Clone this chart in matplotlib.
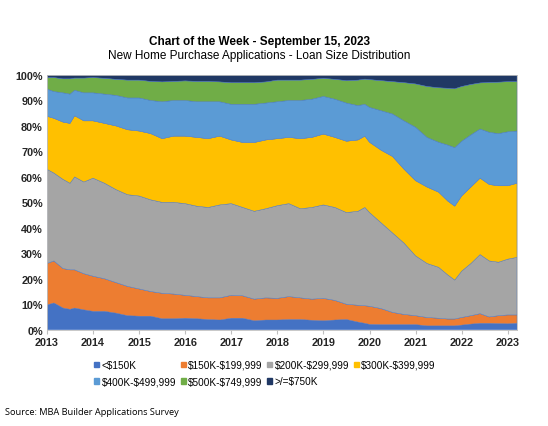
import matplotlib
matplotlib.use("Agg")
import matplotlib.pyplot as plt
from matplotlib.patches import Patch
from matplotlib.ticker import FuncFormatter

plt.rcParams['font.family'] = ['Liberation Sans', 'DejaVu Sans']
plt.rcParams['text.parse_math'] = False

# time in decimal years, shares in percent of applications
years = [2013.00, 2013.15, 2013.35, 2013.50, 2013.60, 2013.80, 2014.00, 2014.25,
         2014.50, 2014.75, 2015.00, 2015.25, 2015.50, 2015.75, 2016.00, 2016.25,
         2016.50, 2016.75, 2017.00, 2017.25, 2017.50, 2017.75, 2018.00, 2018.25,
         2018.50, 2018.75, 2019.00, 2019.25, 2019.50, 2019.75, 2019.90, 2020.00,
         2020.25, 2020.50, 2020.75, 2021.00, 2021.25, 2021.50, 2021.70, 2021.85,
         2022.00, 2022.20, 2022.40, 2022.60, 2022.80, 2023.00, 2023.20]

lt150 = [9.7, 10.5, 8.5, 8.0, 8.5, 7.8, 7.2, 7.2, 6.5, 5.5, 5.3, 5.3, 4.3, 4.3, 4.5, 4.3,
         4.0, 3.8, 4.5, 4.5, 3.5, 3.8, 3.8, 4.0, 4.0, 3.7, 3.5, 3.8, 4.0, 3.0, 2.5, 2.1,
         2.0, 2.0, 2.0, 2.0, 1.5, 1.5, 1.5, 1.5, 1.8, 2.2, 2.5, 2.5, 2.4, 2.3, 2.5]
k150_199 = [16.3, 16.5, 15.5, 15.5, 15.0, 14.2, 13.8, 12.8, 12.0, 11.5, 10.7, 9.7, 10.0, 9.7, 9.0, 8.7,
            8.5, 8.7, 9.0, 8.8, 8.5, 8.7, 8.5, 9.0, 8.5, 8.3, 8.8, 7.7, 6.0, 6.6, 6.9, 7.1,
            6.3, 4.8, 4.0, 3.5, 3.3, 3.0, 2.7, 2.7, 3.0, 3.3, 3.8, 2.5, 3.1, 3.5, 3.3]
k200_299 = [37.0, 34.5, 35.0, 34.0, 36.5, 36.0, 38.5, 37.5, 36.5, 36.0, 36.5, 36.0, 35.7, 36.0, 36.0, 35.5,
            35.5, 36.5, 36.0, 34.7, 34.5, 35.0, 36.4, 36.5, 35.0, 36.0, 36.7, 36.5, 36.0, 36.9, 38.6, 36.8,
            33.7, 31.2, 28.0, 23.5, 21.2, 20.0, 17.3, 15.3, 18.2, 20.5, 23.2, 22.0, 21.0, 21.9, 22.6]
k300_399 = [20.8, 21.5, 22.5, 23.5, 24.0, 24.0, 22.5, 23.5, 25.0, 25.5, 25.5, 26.0, 25.0, 26.0, 26.5, 27.0,
            27.0, 27.0, 25.0, 25.5, 27.0, 27.0, 26.3, 26.0, 27.5, 27.5, 27.8, 27.5, 28.0, 28.0, 28.0, 27.6,
            28.5, 30.0, 29.0, 29.5, 30.0, 29.5, 29.0, 29.0, 29.5, 30.0, 30.0, 30.0, 30.0, 28.8, 29.1]
k400_499 = [10.7, 10.5, 11.5, 11.5, 10.0, 11.0, 11.0, 11.5, 12.0, 12.5, 13.0, 13.0, 14.5, 14.0, 14.0, 14.0,
            14.5, 13.5, 14.0, 15.0, 15.0, 14.5, 14.5, 14.5, 15.0, 15.0, 14.8, 15.0, 15.0, 13.5, 12.5, 13.7,
            15.5, 16.7, 19.0, 21.0, 19.5, 19.6, 22.0, 23.0, 21.5, 20.5, 19.3, 20.5, 20.5, 21.2, 20.5]
k500_749 = [4.5, 5.5, 5.5, 6.0, 4.8, 5.8, 6.0, 6.2, 6.3, 7.0, 7.0, 7.5, 7.8, 7.5, 7.7, 8.0,
            8.0, 7.8, 8.5, 8.5, 8.5, 8.3, 8.5, 8.0, 8.0, 7.8, 7.1, 7.8, 8.8, 10.0, 9.9, 10.9,
            11.8, 12.7, 15.0, 17.0, 20.0, 21.4, 22.3, 23.1, 21.5, 19.8, 18.1, 19.6, 20.2, 19.7, 19.4]
k750up = [1.0, 1.0, 1.5, 1.5, 1.2, 1.2, 1.0, 1.3, 1.7, 2.0, 2.0, 2.5, 2.7, 2.5, 2.3, 2.5,
          2.5, 2.7, 3.0, 3.0, 3.0, 2.7, 2.0, 2.0, 2.0, 1.7, 1.3, 1.7, 2.2, 2.0, 1.6, 1.8,
          2.2, 2.6, 3.0, 3.5, 4.5, 5.0, 5.2, 5.4, 4.5, 3.7, 3.1, 2.9, 2.8, 2.6, 2.6]

labels = ["<$150K", "$150K-$199,999", "$200K-$299,999", "$300K-$399,999",
          "$400K-$499,999", "$500K-$749,999", ">/=$750K"]
colors = ["#4472C4", "#ED7D31", "#A5A5A5", "#FFC000", "#5B9BD5", "#70AD47", "#203864"]
series = [lt150, k150_199, k200_299, k300_399, k400_499, k500_749, k750up]

fig = plt.figure(figsize=(5.48, 4.27), dpi=100)
ax = fig.add_axes([0.0858, 0.2255, 0.8576, 0.5965])

ax.stackplot(years, *series, colors=colors, edgecolor=colors, linewidth=0.3)

ax.set_xlim(2013, 2023.2)
ax.set_ylim(0, 100)
ax.set_xticks(range(2013, 2024))
ax.set_yticks(range(0, 101, 10))
ax.yaxis.set_major_formatter(FuncFormatter(lambda v, p: f"{int(v)}%"))
for lab in ax.get_xticklabels() + ax.get_yticklabels():
    lab.set_fontweight("bold")
    lab.set_fontsize(7.8)
    lab.set_color("#262626")
ax.tick_params(axis="y", length=0, pad=3)
ax.tick_params(axis="x", length=3, color="#bfbfbf", pad=2)
for s in ax.spines.values():
    s.set_color("#bfbfbf")
    s.set_linewidth(0.6)

fig.text(259.5 / 548, 1 - 42 / 427, "Chart of the Week - September 15, 2023",
         ha="center", va="center", fontsize=8.5, fontweight="bold")
fig.text(259.5 / 548, 1 - 55.5 / 427, "New Home Purchase Applications - Loan Size Distribution",
         ha="center", va="center", fontsize=8.5)

handles = [Patch(facecolor=c, edgecolor=c) for c in colors]
order = [0, 4, 1, 5, 2, 6, 3]
fig.legend([handles[i] for i in order], [labels[i] for i in order],
           loc="upper left", bbox_to_anchor=(89 / 548, 1 - 356 / 427), ncol=4,
           frameon=False, fontsize=7.2, handlelength=0.5, handleheight=0.5,
           handletextpad=0.25, columnspacing=0.45, labelspacing=0.65, borderpad=0)

fig.text(5 / 548, 1 - 413 / 427, "Source: MBA Builder Applications Survey",
         ha="left", va="center", fontsize=6.7, family=["Open Sans", "DejaVu Sans"])

fig.savefig("out.png", dpi=100)
